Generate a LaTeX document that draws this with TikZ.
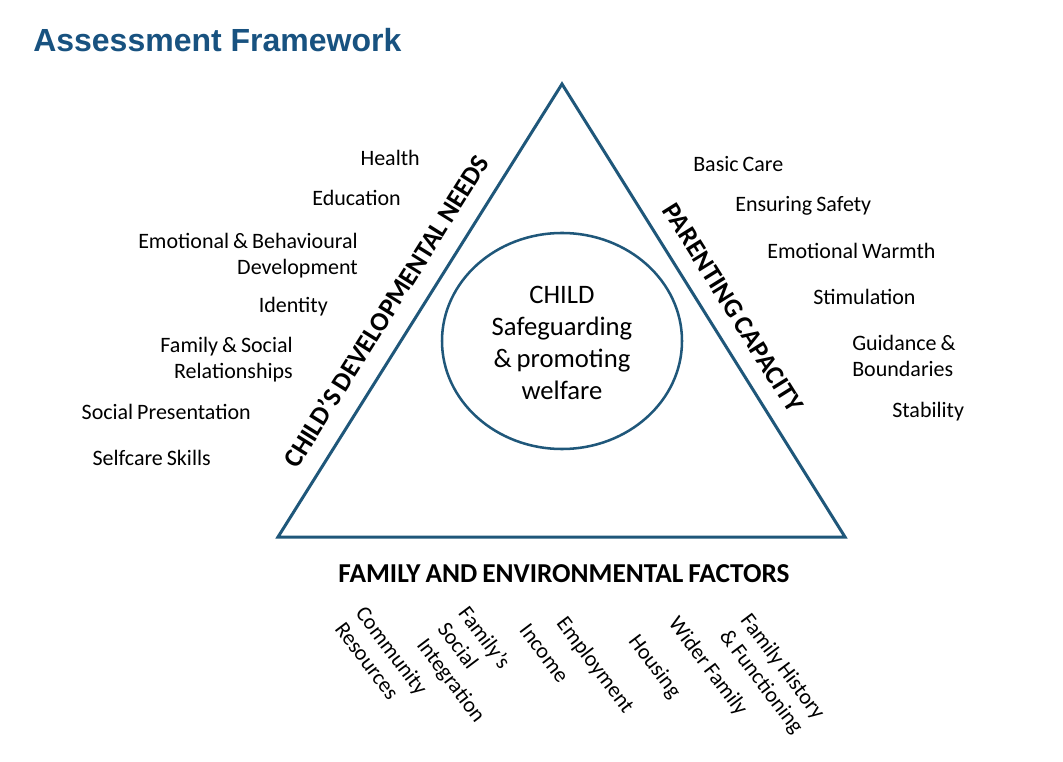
\documentclass[tikz,border=0pt]{standalone}
\usepackage{fontspec}
\setmainfont{Carlito}[WordSpace=0.8]
\newfontfamily\titlefont{Liberation Sans}
\usepackage{tikz}
\usetikzlibrary{calc}

\definecolor{frameblue}{RGB}{31,87,122}
\definecolor{titleblue}{RGB}{24,82,128}

\begin{document}
\begin{tikzpicture}[x=0.75pt, y=-0.75pt,
    every node/.style={font=\fontsize{16.5}{19.5}\selectfont, inner sep=0pt},
    leftitem/.style={anchor=east, align=right},
    rightitem/.style={anchor=west, align=left},
    envitem/.style={anchor=north west, align=left, rotate=-53},
    sidelabel/.style={font=\fontsize{20}{24}\selectfont\bfseries, sloped}]
    \useasboundingbox (0,0) rectangle (1063,762);

    % Define points
    \coordinate (A) at (562,84);
    \coordinate (B) at (278,537);
    \coordinate (C) at (845,537);
    \coordinate (O) at (562,341);

    % Draw triangle and circle
    \draw[frameblue, line width=2.25pt] (A) -- (B) -- (C) -- cycle;
    \draw[frameblue, line width=1.9pt] (O) ellipse [x radius=120, y radius=108];
    \node[align=center, font=\fontsize{20}{24}\selectfont] (child) at ($(O)+(0,2)$) {CHILD\\Safeguarding\\\& promoting\\welfare};

    % Side labels
    \path (B) -- (A) node[sidelabel, pos=0.465, above=14pt] (needs) {CHILD’S DEVELOPMENTAL NEEDS};
    \path (A) -- (C) node[sidelabel, pos=0.525, above=13pt] (parenting) {PARENTING CAPACITY};
    \node[font=\fontsize{20.5}{24}\selectfont\bfseries] (factors) at (564,574) {FAMILY AND ENVIRONMENTAL FACTORS};

    % Child's developmental needs
    \node[leftitem] (health) at (420,158) {Health};
    \node[leftitem] (education) at (401,198) {Education};
    \node[leftitem] (emotional) at (358,256) {Emotional \& Behavioural\\Development};
    \node[leftitem] (identity) at (328,307) {Identity};
    \node[leftitem] (relations) at (293,360) {Family \& Social\\Relationships};
    \node[leftitem] (presentation) at (251,412) {Social Presentation};
    \node[leftitem] (selfcare) at (211,458) {Selfcare Skills};

    % Parenting capacity
    \node[rightitem] (basiccare) at (693,164) {Basic Care};
    \node[rightitem] (safety) at (735,206) {Ensuring Safety};
    \node[rightitem] (warmth) at (767,251) {Emotional Warmth};
    \node[rightitem] (stimulation) at (813,297) {Stimulation};
    \node[rightitem] (guidance) at (852,356) {Guidance \&\\Boundaries};
    \node[rightitem] (stability) at (892,412) {Stability};

    % Family and environmental factors
    \node[envitem] (community) at (367,604) {Community\\Resources};
    \node[envitem] (integration) at (470,604) {Family’s\\Social\\Integration};
    \node[envitem] (income) at (530,622) {Income};
    \node[envitem] (employment) at (568,614) {Employment};
    \node[envitem] (housing) at (640,632) {Housing};
    \node[envitem] (widerfamily) at (680,614) {Wider Family};
    \node[envitem] (history) at (752,611) {Family History\\\& Functioning};

    % Title
    \node[anchor=base west, font=\titlefont\fontsize{24}{28}\selectfont\bfseries, text=titleblue] (title) at (33,52) {Assessment Framework};
\end{tikzpicture}
\end{document}
